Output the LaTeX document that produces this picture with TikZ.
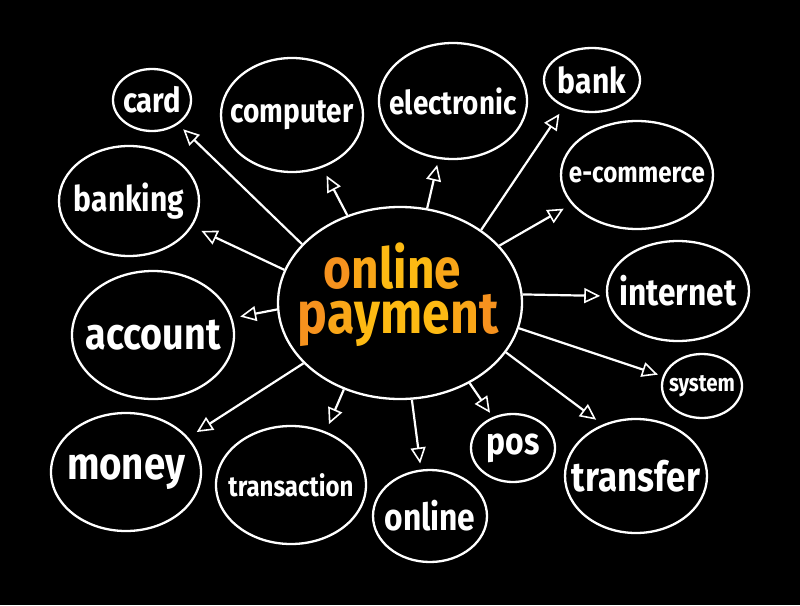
\documentclass[tikz,border=0pt]{standalone}
\usepackage{graphicx}
\usepackage{fontspec}
\setmainfont{Fira Sans}
\usetikzlibrary{shapes.geometric,arrows.meta}
\newcommand\hw[2]{\resizebox{#1pt}{!}{\scalebox{1}[1.18]{\bfseries #2}}}
\definecolor{payorange}{RGB}{246,146,30}
\definecolor{payyellow}{RGB}{253,186,19}
\colorlet{paymid}{payorange!50!payyellow}
\tikzset{
	bub/.style 2 args={draw=white, line width=2.3pt, ellipse, inner sep=0pt, minimum width=#1pt, minimum height=#2pt},
	arr/.style={draw=white, line width=2.2pt, -{Triangle[open, length=16pt, width=15pt, line width=1.6pt]}}
}

\begin{document}
\begin{tikzpicture}[x=1pt, y=-1pt, every label/.style={text=white, inner sep=0pt}]
			%%%%% START %%%%%
			
			\fill[black] (0, 0) rectangle (800, 605);
			\useasboundingbox (0, 0) rectangle (800, 605);
			
			\node[bub={244}{192}, label={[align=center, xshift=-2pt, yshift=8pt]center:{\hspace*{-11pt}\hw{137}{\color{payorange}o\color{paymid}n\color{payyellow}lin\color{paymid}e}\\[4pt]\hw{201}{\color{payorange}p\color{paymid}a\color{payyellow}yme\color{paymid}n\color{payorange}t}}}] (pay) at (400, 303) {};
			
			\node[bub={78}{62}, label=center:{\hw{58}{card}}] (card) at (152, 100) {};
			\node[bub={142}{114}, label=center:{\hw{123}{computer}}] (computer) at (292, 115) {};
			\node[bub={148}{116}, label=center:{\hw{127}{electronic}}] (electronic) at (453, 101) {};
			\node[bub={96}{64}, label=center:{\hw{68}{bank}}] (bank) at (592, 80) {};
			\node[bub={152}{108}, label=center:{\hw{136}{e-commerce}}] (ecommerce) at (637, 175) {};
			\node[bub={142}{100}, label=center:{\hw{117}{internet}}] (internet) at (678, 291) {};
			\node[bub={80}{64}, label=center:{\hw{66}{system}}] (system) at (702, 386) {};
			\node[bub={142}{114}, label=center:{\hw{128}{transfer}}] (transfer) at (636, 476) {};
			\node[bub={84}{68}, label=center:{\hw{53}{pos}}] (pos) at (513, 448) {};
			\node[bub={114}{92}, label=center:{\hw{91}{online}}] (online) at (430, 516) {};
			\node[bub={150}{118}, label=center:{\hw{125}{transaction}}] (transaction) at (291, 485) {};
			\node[bub={150}{118}, label=center:{\hw{118}{money}}] (money) at (126, 472) {};
			\node[bub={162}{128}, label=center:{\hw{135}{account}}] (account) at (153, 335) {};
			\node[bub={140}{110}, label=center:{\hw{110}{banking}}] (banking) at (129, 201) {};
			
			% arrows out of the middle
			\draw[arr, shorten >=7pt] (pay.149) -- (card.-43);
			\draw[arr, shorten >=9pt] (pay.121) -- (computer.-60);
			\draw[arr, shorten >=6pt] (pay.74) -- (electronic.-104);
			\draw[arr, shorten >=8pt] (pay.42) -- (bank.-136);
			\draw[arr, shorten >=9pt] (pay.30) -- (ecommerce.-156);
			\draw[arr, shorten >=6pt] (pay.4) -- (internet.-176);
			\draw[arr, shorten >=5pt] (pay.-12) -- (system.166);
			\draw[arr, shorten >=8pt] (pay.-25) -- (transfer.123);
			\draw[arr, shorten >=5pt] (pay.-49) -- (pos.123);
			\draw[arr, shorten >=6pt] (pay.-83) -- (online.101);
			\draw[arr, shorten >=8pt] (pay.-123) -- (transaction.57);
			\draw[arr, shorten >=10pt] (pay.-148) -- (money.29);
			\draw[arr, shorten >=8pt] (pay.183) -- (account.12);
			\draw[arr, shorten >=10pt] (pay.164) -- (banking.-22);
			
			%%%%% END %%%%%
\end{tikzpicture}
\end{document}
